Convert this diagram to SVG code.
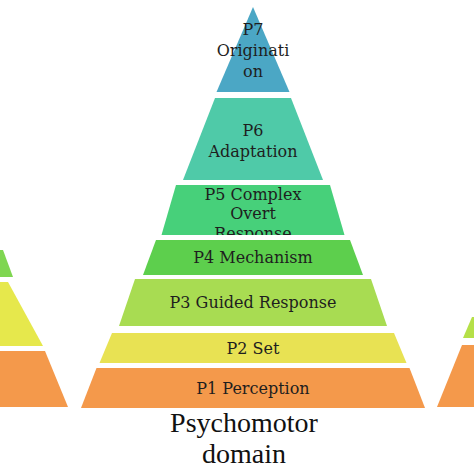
<svg xmlns="http://www.w3.org/2000/svg" width="474" height="474" viewBox="0 0 474 474">
<style>
.lbl{font-family:"DejaVu Serif","Liberation Serif",serif;font-size:16px;fill:#1e1e1e;text-anchor:middle}
.title{font-family:"Liberation Serif","Times New Roman",serif;font-size:28px;fill:#111;text-anchor:middle}
</style>
<defs>
<clipPath id="clipP5"><polygon points="176,185 330,185 344.5,235 161.5,235"/></clipPath>
</defs>
<rect width="474" height="474" fill="#ffffff"/>
<g id="left-partial">
<polygon points="0,250 3,250 13,277 0,277" fill="#7fd651"/>
<polygon points="0,282 8,282 43,346 0,346" fill="#e6e84c"/>
<polygon points="0,351 45,351 68,407 0,407" fill="#f4994b"/>
</g>
<g id="right-partial">
<polygon points="472,317 474,317 474,338 463,338" fill="#b5e048"/>
<polygon points="462,345 474,345 474,407 437,407" fill="#f4994b"/>
</g>
<g id="p7">
<polygon points="253,7 289.5,92 216.5,92" fill="#4ba7c5"/>
<text class="lbl" x="253" y="35">P7</text>
<text class="lbl" x="253" y="56">Originati</text>
<text class="lbl" x="253" y="77">on</text>
</g>
<g id="p6">
<polygon points="215,98 291,98 323,180 183,180" fill="#4fcaa8"/>
<text class="lbl" x="253" y="136">P6</text>
<text class="lbl" x="253" y="157">Adaptation</text>
</g>
<g id="p5">
<polygon points="176,185 330,185 344.5,235 161.5,235" fill="#47d07a"/>
<g clip-path="url(#clipP5)">
<text class="lbl" x="253" y="200">P5 Complex</text>
<text class="lbl" x="253" y="219">Overt</text>
<text class="lbl" x="253" y="239">Response</text>
</g>
</g>
<g id="p4">
<polygon points="156,240 350,240 363,275 143,275" fill="#5dcf4d"/>
<text class="lbl" x="253" y="263">P4 Mechanism</text>
</g>
<g id="p3">
<polygon points="135,279 371,279 387,326 119,326" fill="#a8dc52"/>
<text class="lbl" x="253" y="308">P3 Guided Response</text>
</g>
<g id="p2">
<polygon points="112,333 394,333 406.5,363 99.5,363" fill="#e8e253"/>
<text class="lbl" x="253" y="354">P2 Set</text>
</g>
<g id="p1">
<polygon points="96.5,368 409.5,368 425,408 81,408" fill="#f4994b"/>
<text class="lbl" x="253" y="394">P1 Perception</text>
</g>
<g id="title">
<text class="title" x="244" y="432">Psychomotor</text>
<text class="title" x="244" y="463">domain</text>
</g>
<g id="connectors"/>
</svg>
